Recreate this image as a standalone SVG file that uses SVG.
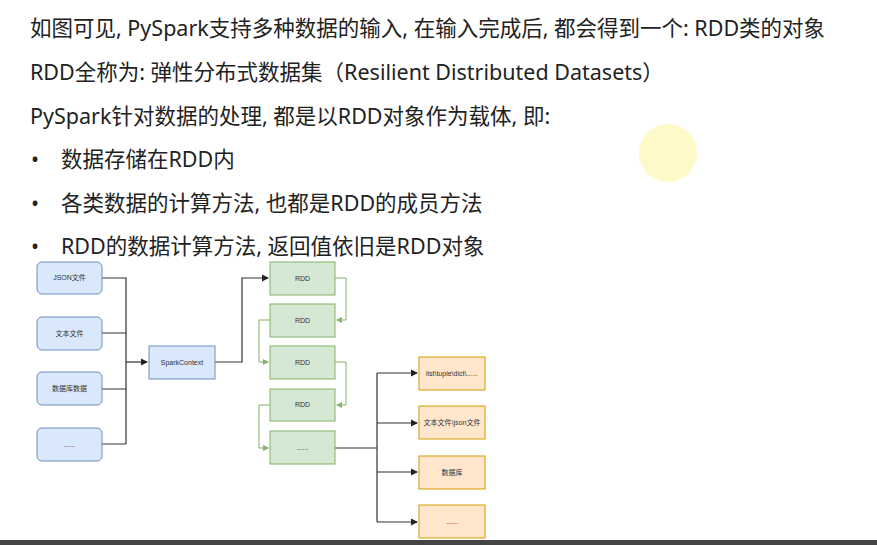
<svg xmlns="http://www.w3.org/2000/svg" width="877" height="545" viewBox="0 0 877 545">
<style>
.t{font-family:"Noto Sans","Noto Sans CJK SC",sans-serif;font-size:21.5px;fill:#222}
.s{font-family:"Liberation Sans","Noto Sans CJK SC",sans-serif;font-size:7px;fill:#333;text-anchor:middle}
.b{fill:#dae8fc;stroke:#6c8ebf}
.g{fill:#d5e8d4;stroke:#82b366}
.o{fill:#ffe6cc;stroke:#d79b00}
.c{fill:none;stroke:#333;stroke-width:1.2}
.cg{fill:none;stroke:#82b366;stroke-width:1}
</style>
<defs>
<marker id="a" markerWidth="6" markerHeight="6" refX="5" refY="3" orient="auto"><path d="M0,0L6,3L0,6Z" fill="#222"/></marker>
<marker id="ag" markerWidth="6" markerHeight="6" refX="5" refY="3" orient="auto"><path d="M0,0L6,3L0,6Z" fill="#82b366"/></marker>
</defs>
<rect width="877" height="545" fill="#fff"/>
<circle cx="668" cy="153" r="29" fill="#fff8c8"/>
<text class="t" x="30" y="36">如图可见, PySpark支持多种数据的输入, 在输入完成后, 都会得到一个: RDD类的对象</text>
<text class="t" x="30" y="80">RDD全称为: 弹性分布式数据集（Resilient Distributed Datasets）</text>
<text class="t" x="30" y="124">PySpark针对数据的处理, 都是以RDD对象作为载体, 即:</text>
<text class="t" x="31" y="167">•</text><text class="t" x="61" y="167">数据存储在RDD内</text>
<text class="t" x="31" y="211">•</text><text class="t" x="61" y="211">各类数据的计算方法, 也都是RDD的成员方法</text>
<text class="t" x="31" y="254">•</text><text class="t" x="61" y="254">RDD的数据计算方法, 返回值依旧是RDD对象</text>
<g id="connectors">
<path class="c" d="M102,278H126V444M102,333H126M102,389H126M102,444H126"/>
<path class="c" d="M126,362H147" marker-end="url(#a)"/>
<path class="c" d="M215,362H242V278H268" marker-end="url(#a)"/>
<path class="cg" d="M335,278H346V320H337" marker-end="url(#ag)"/>
<path class="cg" d="M270,320H259V362H268" marker-end="url(#ag)"/>
<path class="cg" d="M335,362H346V405H337" marker-end="url(#ag)"/>
<path class="cg" d="M270,405H259V448H268" marker-end="url(#ag)"/>
<path class="c" d="M335,448H377"/>
<path class="c" d="M377,373V522"/>
<path class="c" d="M377,373H417" marker-end="url(#a)"/>
<path class="c" d="M377,423H417" marker-end="url(#a)"/>
<path class="c" d="M377,472H417" marker-end="url(#a)"/>
<path class="c" d="M377,522H417" marker-end="url(#a)"/>
</g>
<g id="json"><rect class="b" x="37" y="262" width="65" height="32" rx="5"/><text class="s" x="69.5" y="280">JSON文件</text></g>
<g id="txt"><rect class="b" x="37" y="317" width="65" height="33" rx="5"/><text class="s" x="69.5" y="336">文本文件</text></g>
<g id="db"><rect class="b" x="37" y="372" width="65" height="33" rx="5"/><text class="s" x="69.5" y="391">数据库数据</text></g>
<g id="etc"><rect class="b" x="37" y="428" width="65" height="33" rx="5"/><text class="s" x="69.5" y="447">......</text></g>
<g id="sc"><rect class="b" x="149" y="346" width="66" height="33"/><text class="s" x="182" y="365">SparkContext</text></g>
<g id="rdd1"><rect class="g" x="270" y="262" width="65" height="33"/><text class="s" x="302.5" y="281">RDD</text></g>
<g id="rdd2"><rect class="g" x="270" y="304" width="65" height="33"/><text class="s" x="302.5" y="323">RDD</text></g>
<g id="rdd3"><rect class="g" x="270" y="346" width="65" height="33"/><text class="s" x="302.5" y="365">RDD</text></g>
<g id="rdd4"><rect class="g" x="270" y="389" width="65" height="32"/><text class="s" x="302.5" y="407">RDD</text></g>
<g id="rdd5"><rect class="g" x="270" y="431" width="65" height="33"/><text class="s" x="302.5" y="450">......</text></g>
<g id="o1"><rect class="o" x="419" y="357" width="66" height="33"/><text class="s" x="452" y="376">list\tuple\dict\......</text></g>
<g id="o2"><rect class="o" x="419" y="406" width="66" height="33"/><text class="s" x="452" y="425">文本文件\json文件</text></g>
<g id="o3"><rect class="o" x="419" y="456" width="66" height="33"/><text class="s" x="452" y="475">数据库</text></g>
<g id="o4"><rect class="o" x="419" y="505" width="66" height="33"/><text class="s" x="452" y="524">......</text></g>
<rect x="0" y="540" width="877" height="5" fill="#444"/>
</svg>
